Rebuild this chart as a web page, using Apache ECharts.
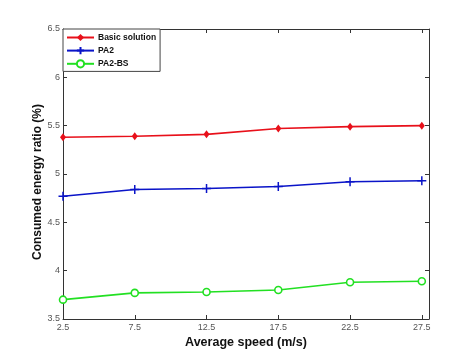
<!DOCTYPE html>
<html><head><meta charset="utf-8">
<script src="https://cdn.jsdelivr.net/npm/echarts@6/dist/echarts.min.js"></script>
<style>html,body{margin:0;padding:0;background:#fff}#c{width:474px;height:357px}</style>
</head><body><div id="c"></div>
<script>
const speeds = [2.5, 7.5, 12.5, 17.5, 22.5, 27.5];
const basicSolution = [5.38, 5.39, 5.41, 5.47, 5.49, 5.50];
const pa2 = [4.77, 4.84, 4.85, 4.87, 4.92, 4.93];
const pa2bs = [3.70, 3.77, 3.78, 3.80, 3.88, 3.89];
const xTicks = [2.5, 7.5, 12.5, 17.5, 22.5, 27.5];
const seriesNames = ['Basic solution', 'PA2', 'PA2-BS'];

const pair = (ys) => speeds.map((x, i) => [x, ys[i]]);
const FONT = 'Liberation Sans, Arial, sans-serif';
const plus = 'path://M0,5 L10,5 M5,0 L5,10';
const AX = '#333';

const chart = echarts.init(document.getElementById('c'));
chart.setOption({
  animation: false,
  backgroundColor: '#fff',
  grid: {left: 63, right: 45, top: 29, bottom: 38},
  legend: {
    left: 63, top: 29, orient: 'vertical',
    data: seriesNames,
    itemWidth: 27, itemHeight: 9, itemGap: 4,
    padding: [4, 4, 3, 3],
    borderColor: '#444', borderWidth: 1,
    backgroundColor: '#fff',
    textStyle: {fontFamily: FONT, fontSize: 8.5, fontWeight: 'bold', color: '#111', padding: [0,0,0,-1]}
  },
  xAxis: [{
    type: 'value', min: 2.5, max: 28,
    name: 'Average speed (m/s)', nameLocation: 'middle', nameGap: 17, nameMoveOverlap: false,
    nameTextStyle: {fontFamily: FONT, fontSize: 12.5, fontWeight: 'bold', color: '#111'},
    axisLine: {lineStyle: {color: AX, width: 1}},
    axisTick: {inside: true, length: 4, customValues: xTicks, lineStyle: {color: AX}},
    axisLabel: {customValues: xTicks, fontFamily: FONT, fontSize: 9, color: '#555', margin: 4},
    splitLine: {show: false}
  }, {
    type: 'value', min: 2.5, max: 28, position: 'top',
    axisLine: {lineStyle: {color: AX, width: 1}},
    axisTick: {inside: true, length: 4, customValues: xTicks, lineStyle: {color: AX}},
    axisLabel: {show: false}, splitLine: {show: false}
  }],
  yAxis: [{
    type: 'value', min: 3.5, max: 6.5, interval: 0.5,
    name: 'Consumed energy ratio (%)', nameLocation: 'middle', nameGap: 19, nameMoveOverlap: false,
    nameTextStyle: {fontFamily: FONT, fontSize: 12, fontWeight: 'bold', color: '#111', padding: [0, 16, 0, 0]},
    axisLine: {show: true, lineStyle: {color: AX, width: 1}},
    axisTick: {show: true, inside: true, length: 4, lineStyle: {color: AX}},
    axisLabel: {fontFamily: FONT, fontSize: 9, color: '#555', margin: 3},
    splitLine: {show: false}
  }, {
    type: 'value', min: 3.5, max: 6.5, interval: 0.5, position: 'right',
    axisLine: {show: true, lineStyle: {color: AX, width: 1}},
    axisTick: {show: true, inside: true, length: 4, lineStyle: {color: AX}},
    axisLabel: {show: false}, splitLine: {show: false}
  }],
  series: [{
    name: seriesNames[0], type: 'line', data: pair(basicSolution),
    symbol: 'diamond', symbolSize: [6, 8],
    lineStyle: {color: '#e8101a', width: 1.6},
    itemStyle: {color: '#e8101a'}
  }, {
    name: seriesNames[1], type: 'line', data: pair(pa2),
    symbol: plus, symbolSize: 9,
    lineStyle: {color: '#0a14c8', width: 1.6},
    itemStyle: {color: '#0a14c8', borderColor: '#0a14c8', borderWidth: 1.5}
  }, {
    name: seriesNames[2], type: 'line', data: pair(pa2bs),
    symbol: 'circle', symbolSize: 7,
    lineStyle: {color: '#22e022', width: 1.6},
    itemStyle: {color: '#ffffff', borderColor: '#22e022', borderWidth: 1.6}
  }]
});
</script></body></html>
